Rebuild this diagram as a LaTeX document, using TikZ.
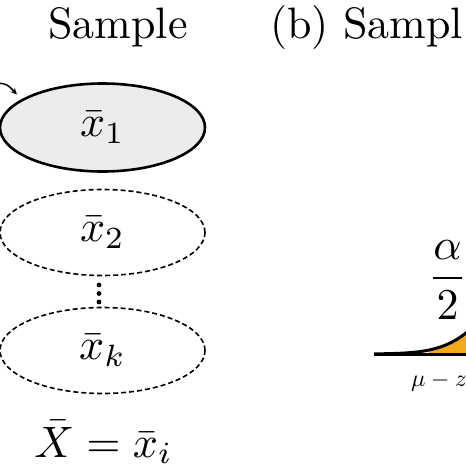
\documentclass[tikz,border=0pt]{standalone}
\usepackage{graphicx}
\usetikzlibrary{shapes.geometric,arrows.meta}
\definecolor{ellfill}{RGB}{236,236,236}
\definecolor{tailorange}{RGB}{244,168,28}
\newcommand{\bigtxt}[1]{\scalebox{4.4}{#1}}
\begin{document}
\begin{tikzpicture}[x=1pt,y=-1pt,
  txt/.style={inner sep=0pt, outer sep=0pt},
  ellsolid/.style={ellipse, draw=black, line width=2.6pt, fill=ellfill, minimum width=205pt, minimum height=88pt, inner sep=0pt},
  elldash/.style={ellipse, draw=black, line width=1.6pt, dash pattern=on 5pt off 3pt, minimum width=205pt, minimum height=86pt, inner sep=0pt},
  dotstyle/.style={circle, fill=black, inner sep=0pt, minimum size=4.8pt}]
\useasboundingbox (0,0) rectangle (466,466);
\clip (0,0) rectangle (466,466);

% titles
\node[txt, anchor=base] (tA) at (118,38) {\bigtxt{Sample}};
\node[txt, anchor=base west] (tB) at (270,38) {\bigtxt{(b) Sampl}};

% ellipses
\node[ellsolid] (e1) at (102.5,127.5) {\bigtxt{$\bar{x}_1$}};
\node[elldash] (e2) at (102.5,232.5) {\bigtxt{$\bar{x}_2$}};
\node[elldash] (ek) at (102.5,350.5) {\bigtxt{$\bar{x}_k$}};

% vertical dots
\node[dotstyle] (d1) at (99,285) {};
\node[dotstyle] (d2) at (99,293.5) {};
\node[dotstyle] (d3) at (99,302) {};

% incoming arrow
\coordinate (a0) at (-3,83);
\coordinate (a1) at (17,94.5);
\draw[line width=1.5pt, -{Stealth[length=6.5pt,width=6pt]}] (a0) .. controls (7,84) .. (a1);

% bottom formula
\node[txt, anchor=base] (fX) at (103.5,457) {\bigtxt{$\bar{X} = \bar{x}_i$}};

% right panel: tail of distribution
\fill[tailorange] plot[domain=429:470, samples=40] (\x, {354-123*exp(-((\x-560)/50)^2/2)}) -- (470,354) -- (429,354) -- cycle;
\draw[line width=3pt] (374,354) -- (470,354);
\draw[line width=3pt] plot[domain=374:470, samples=60] (\x, {354-123*exp(-((\x-560)/50)^2/2)});

\node[txt, anchor=base] (frac) at (447.5,289) {\bigtxt{$\displaystyle\frac{\alpha}{2}$}};
\node[txt, anchor=base west] (mu) at (411,386) {\scalebox{2.4}{$\mu - z$}};
\end{tikzpicture}
\end{document}
